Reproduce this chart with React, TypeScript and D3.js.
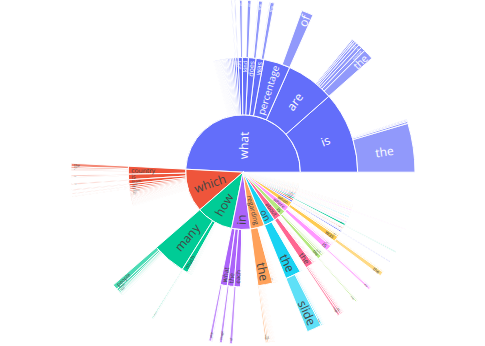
import React, { useMemo } from 'react';
import * as d3 from 'd3';

const WIDTH = 485;
const HEIGHT = 346;
const CX = 243;
const CY = 172.2;
const RADIUS = 172;
const TOTAL = 3600;

const colorway = ['#636efa', '#EF553B', '#00cc96', '#ab63fa', '#FFA15A', '#19d3f3', '#FF6692', '#B6E880', '#FF97FF', '#FECB52'];

// first word of the question
const firstWords: [string, number][] = [
  ['what', 1770], ['which', 440], ['how', 375], ['in', 190], ['regarding', 145], ['on', 115],
  ['about', 75], ['is', 60], ['where', 60], ['when', 55], ['who', 20], ['for', 18], ['according', 17],
  ['among', 15], ['during', 14], ['name', 13], ['considering', 12], ['as', 11], ['based', 10],
  ['compared', 9], ['from', 8], ['by', 8], ['at', 7], ['to', 6], ['with', 6], ['if', 5], ['under', 5],
  ['does', 4], ['since', 4], ['apart', 3],
];

// second word
const secondWords: [string, string, number][] = [
  ['what', 'is', 415], ['what', 'are', 245], ['what', 'percentage', 135], ['what', 'was', 40],
  ['what', 'does', 38], ['what', 'kind', 30], ['what', 'type', 22], ['what', 'name', 12],
  ['what', 'color', 10], ['what', 'year', 9], ['what', 'do', 8], ['what', 'can', 7], ['what', 'would', 7],
  ['what', 'might', 6], ['what', 'should', 6], ['what', 'happens', 5], ['what', 'makes', 5],
  ['what', 'will', 4], ['what', 'did', 4], ['what', 'has', 4], ['what', 'time', 3], ['what', 'sort', 3],
  ['what', 'city', 3], ['what', 'brand', 3], ['what', 'number', 2], ['what', 'sport', 2],
  ['what', 'animal', 2], ['what', 'date', 2], ['what', 'day', 2], ['what', 'material', 2],
  ['what', 'company', 2], ['what', 'team', 2], ['what', 'object', 1], ['what', 'fraction', 1],
  ['what', 'shape', 1], ['what', 'part', 1], ['what', 'word', 1], ['what', 'term', 1],
  ['what', 'kinds', 1], ['what', 'size', 1],
  ['which', 'country', 40], ['which', 'is', 28], ['which', 'team', 20], ['which', 'state', 12],
  ['which', 'city', 10], ['which', 'year', 9], ['which', 'company', 8], ['which', 'player', 7],
  ['which', 'of', 6], ['which', 'one', 6], ['which', 'group', 5], ['which', 'two', 5],
  ['which', 'type', 4], ['which', 'brand', 4], ['which', 'product', 4], ['which', 'sport', 3],
  ['which', 'animal', 3], ['which', 'person', 3], ['which', 'book', 3], ['which', 'film', 2],
  ['which', 'song', 2], ['which', 'album', 2], ['which', 'university', 2], ['which', 'county', 2],
  ['which', 'river', 2], ['which', 'party', 2], ['which', 'school', 2], ['which', 'language', 1],
  ['which', 'airport', 1], ['which', 'element', 1], ['which', 'planet', 1], ['which', 'president', 1],
  ['which', 'station', 1],
  ['how', 'many', 170], ['how', 'much', 30], ['how', 'long', 5], ['how', 'old', 4], ['how', 'often', 3],
  ['how', 'far', 3], ['how', 'big', 2], ['how', 'does', 2], ['how', 'do', 2], ['how', 'is', 1],
  ['how', 'tall', 1],
  ['in', 'what', 36], ['in', 'the', 34], ['in', 'each', 33], ['in', 'which', 3], ['in', 'how', 2],
  ['regarding', 'the', 75], ['regarding', 'this', 6], ['regarding', 'a', 5], ['regarding', 'these', 4],
  ['regarding', 'that', 3], ['regarding', 'all', 3], ['regarding', 'their', 2], ['regarding', 'its', 2],
  ['on', 'the', 80], ['on', 'this', 4], ['on', 'which', 3], ['on', 'a', 2], ['on', 'slide', 2],
  ['about', 'the', 40], ['about', 'what', 6], ['about', 'how', 5], ['about', 'which', 4], ['about', 'this', 3],
  ['is', 'the', 20], ['is', 'there', 10], ['is', 'this', 6], ['is', 'it', 4], ['is', 'a', 3],
  ['where', 'is', 30], ['where', 'was', 8], ['where', 'are', 5], ['where', 'did', 4], ['where', 'does', 3],
  ['when', 'was', 28], ['when', 'did', 8], ['when', 'is', 5], ['when', 'does', 3],
  ['who', 'is', 8], ['who', 'was', 4], ['for', 'the', 6], ['for', 'which', 3], ['according', 'to', 10],
  ['among', 'the', 5], ['during', 'which', 4], ['name', 'the', 5], ['considering', 'the', 3],
  ['as', 'of', 3], ['based', 'on', 5], ['compared', 'to', 4], ['from', 'the', 2], ['by', 'how', 2],
];

// third word
const thirdWords: [string, string, string, number][] = [
  ['what', 'is', 'the', 165], ['what', 'is', 'a', 7], ['what', 'is', 'an', 4], ['what', 'is', 'this', 3],
  ['what', 'are', 'the', 35], ['what', 'are', 'some', 15], ['what', 'are', 'a', 12], ['what', 'are', 'its', 10],
  ['what', 'are', 'these', 8], ['what', 'are', 'common', 6], ['what', 'are', 'main', 5],
  ['what', 'percentage', 'of', 40], ['what', 'was', 'the', 14], ['what', 'was', 'a', 3],
  ['what', 'does', 'the', 13], ['what', 'does', 'a', 3], ['what', 'kind', 'of', 12], ['what', 'type', 'of', 9],
  ['what', 'name', 'is', 4], ['what', 'color', 'is', 3],
  ['which', 'country', 'the', 12], ['which', 'country', 'has', 6], ['which', 'country', 'is', 4],
  ['which', 'country', 'had', 3], ['which', 'is', 'the', 5], ['which', 'is', 'a', 3],
  ['which', 'team', 'has', 4], ['which', 'state', 'is', 3], ['which', 'city', 'is', 3], ['which', 'year', 'did', 2],
  ['how', 'many', 'people', 18], ['how', 'many', 'times', 8], ['how', 'many', 'years', 5],
  ['how', 'many', 'states', 4], ['how', 'many', 'countries', 3], ['how', 'many', 'more', 2],
  ['how', 'many', 'children', 2], ['how', 'many', 'games', 2], ['how', 'many', 'of', 1],
  ['how', 'many', 'players', 1], ['how', 'much', 'money', 4], ['how', 'much', 'did', 2],
  ['in', 'what', 'year', 10], ['in', 'what', 'country', 3], ['in', 'the', 'image', 10], ['in', 'the', 'table', 2],
  ['in', 'each', 'of', 10],
  ['regarding', 'the', 'image', 6], ['regarding', 'the', 'slide', 5], ['regarding', 'the', 'figure', 4],
  ['regarding', 'the', 'table', 3], ['regarding', 'the', 'chart', 3], ['regarding', 'the', 'data', 2],
  ['regarding', 'the', 'graph', 2], ['regarding', 'the', 'map', 2], ['regarding', 'the', 'text', 2],
  ['regarding', 'the', 'two', 1], ['regarding', 'the', 'first', 1], ['regarding', 'the', 'photo', 1],
  ['on', 'the', 'slide', 50], ['on', 'the', 'image', 5], ['on', 'the', 'right', 3], ['on', 'the', 'left', 2],
  ['on', 'the', 'top', 2], ['on', 'the', 'page', 1],
  ['about', 'the', 'image', 8], ['about', 'the', 'slide', 6], ['about', 'the', 'chart', 4],
  ['about', 'the', 'table', 3], ['about', 'the', 'figure', 2],
  ['is', 'the', 'image', 5], ['is', 'the', 'person', 3], ['where', 'is', 'the', 8], ['where', 'is', 'this', 3],
  ['when', 'was', 'the', 15], ['when', 'was', 'this', 3], ['who', 'is', 'the', 3],
  ['according', 'to', 'the', 3], ['based', 'on', 'the', 2],
];

type WordNode = { name: string; total: number; children: WordNode[] };

function buildTree(): WordNode {
  const root: WordNode = { name: '', total: TOTAL, children: [] };
  const byKey = new Map<string, WordNode>();
  firstWords.forEach(([a, v]) => {
    const n = { name: a, total: v, children: [] };
    root.children.push(n);
    byKey.set(a, n);
  });
  secondWords.forEach(([a, b, v]) => {
    const n = { name: b, total: v, children: [] };
    byKey.get(a)!.children.push(n);
    byKey.set(a + '/' + b, n);
  });
  thirdWords.forEach(([a, b, c, v]) => {
    byKey.get(a + '/' + b)!.children.push({ name: c, total: v, children: [] });
  });
  return root;
}

// biggest text that fits in a sector, text laid out along the radius
function fitText(w: number, h: number, r0: number, r1: number, dTheta: number) {
  const pad = 3;
  const R1 = r1 - pad;
  const R0 = r0 > 0 ? r0 + pad : 0;
  const half = Math.min(dTheta / 2, Math.PI / 2 - 1e-3);
  const t = Math.tan(half);
  const inner = (s: number) => Math.max(R0, (h * s) / (2 * t));
  const ok = (s: number) => {
    const H = h * s;
    if (H / 2 >= R1) return false;
    return inner(s) + w * s <= Math.sqrt(R1 * R1 - (H * H) / 4);
  };
  let lo = 0, hi = 20;
  for (let i = 0; i < 40; i++) {
    const m = (lo + hi) / 2;
    if (ok(m)) lo = m; else hi = m;
  }
  return { s: lo, rc: inner(lo) + (w * lo) / 2 };
}

function textColor(hex: string) {
  const c = d3.rgb(hex);
  const b = (c.r * 299 + c.g * 587 + c.b * 114) / 1000;
  return b >= 128 ? '#444' : '#fff';
}

const App = () => {
  const { arcs, labels } = useMemo(() => {
    const tree = buildTree();
    const root = d3.hierarchy<WordNode>(tree, d => (d.children.length ? d.children : null))
      .sum(d => Math.max(0, d.total - d3.sum(d.children, c => c.total)))
      .sort((a, b) => (b.value || 0) - (a.value || 0));
    d3.partition<WordNode>().size([2 * Math.PI, 4])(root);

    const ring = RADIUS / 3;
    const arc = d3.arc<any>()
      .startAngle(d => Math.PI / 2 - d.x1)
      .endAngle(d => Math.PI / 2 - d.x0)
      .innerRadius(d => (d.depth - 1) * ring)
      .outerRadius(d => d.depth * ring);

    const ctx = document.createElement('canvas').getContext('2d')!;
    ctx.font = "12px 'Open Sans'";

    const nodes = root.descendants().filter(d => d.depth > 0);
    const top = root.children || [];
    const colorOf = (d: any) => {
      let a = d;
      while (a.depth > 1) a = a.parent;
      return colorway[top.indexOf(a) % colorway.length];
    };

    const arcs = nodes.map((d: any, i) => ({
      key: i,
      path: arc(d) as string,
      fill: colorOf(d),
      leaf: !d.children,
    }));

    const labels = nodes.map((d: any, i) => {
      const r0 = (d.depth - 1) * ring;
      const r1 = d.depth * ring;
      const w = ctx.measureText(d.data.name).width;
      const { s, rc } = fitText(w, 11, r0, r1, d.x1 - d.x0);
      const mid = (d.x0 + d.x1) / 2;
      let rot = -mid * 180 / Math.PI;
      while (rot <= -90) rot += 180;
      while (rot > 90) rot -= 180;
      return {
        key: i,
        text: d.data.name,
        x: CX + rc * Math.cos(mid),
        y: CY - rc * Math.sin(mid),
        rot,
        scale: Math.min(1, s),
        color: textColor(colorOf(d)),
      };
    }).filter(l => l.scale * 12 >= 1.2);

    return { arcs, labels };
  }, []);

  return (
    <svg width={WIDTH} height={HEIGHT} style={{ position: 'absolute', left: 0, top: 0, background: '#fff' }}>
      <g transform={`translate(${CX},${CY})`}>
        {arcs.map(a => (
          <path key={a.key} d={a.path} fill={a.fill} fillOpacity={a.leaf ? 0.7 : 1} stroke="#fff" strokeWidth={1} />
        ))}
      </g>
      <g fontFamily="'Open Sans', verdana, arial, sans-serif" fontSize={12}>
        {labels.map(l => (
          <text key={l.key} transform={`translate(${l.x},${l.y}) rotate(${l.rot}) scale(${l.scale})`}
            textAnchor="middle" dominantBaseline="central" fill={l.color}>{l.text}</text>
        ))}
      </g>
    </svg>
  );
};

export default App;
